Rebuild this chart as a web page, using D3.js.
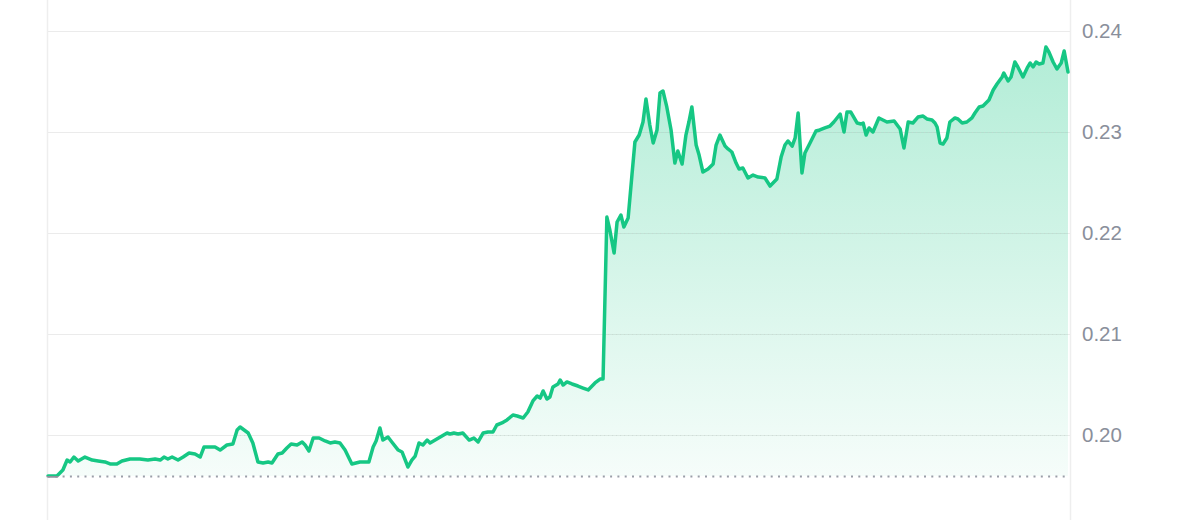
<!DOCTYPE html>
<html><head><meta charset="utf-8">
<script src="https://cdn.jsdelivr.net/npm/d3@7"></script>
<style>html,body{margin:0;padding:0;background:#fff;}svg{display:block}</style>
</head><body><svg id="c" width="1200" height="520"></svg>
<script>
// time in hours since start of the 24h window
const hours = [0,0.21,0.35,0.45,0.52,0.61,0.71,0.87,1.04,1.18,1.34,1.46,1.62,1.74,1.93,2.16,2.35,2.52,2.64,2.73,2.82,2.92,3.06,3.18,3.32,3.46,3.58,3.67,3.81,3.93,4.05,4.21,4.35,4.45,4.52,4.71,4.82,4.94,5.06,5.18,5.27,5.41,5.51,5.62,5.72,5.86,5.98,6.05,6.14,6.24,6.38,6.52,6.64,6.75,6.87,6.99,7.15,7.34,7.55,7.65,7.72,7.81,7.88,8.00,8.09,8.24,8.33,8.47,8.56,8.64,8.73,8.82,8.92,8.99,9.15,9.27,9.39,9.46,9.55,9.65,9.76,9.91,10.02,10.12,10.24,10.35,10.47,10.56,10.68,10.80,10.94,11.04,11.18,11.29,11.41,11.51,11.58,11.65,11.74,11.81,11.88,12.00,12.05,12.12,12.21,12.33,12.47,12.59,12.71,12.87,12.99,13.06,13.15,13.22,13.32,13.39,13.48,13.55,13.65,13.74,13.81,13.91,14.00,14.07,14.16,14.24,14.33,14.40,14.47,14.56,14.66,14.75,14.82,14.92,15.01,15.08,15.15,15.25,15.32,15.41,15.53,15.65,15.72,15.81,15.93,16.00,16.09,16.19,16.26,16.35,16.47,16.59,16.71,16.87,16.99,17.15,17.25,17.34,17.41,17.51,17.58,17.65,17.74,17.81,17.93,18.07,18.16,18.28,18.40,18.49,18.64,18.73,18.80,18.89,19.04,19.13,19.18,19.25,19.32,19.41,19.55,19.74,19.91,20.05,20.14,20.24,20.35,20.47,20.59,20.68,20.80,20.87,20.92,20.99,21.06,21.15,21.22,21.34,21.41,21.51,21.62,21.74,21.81,21.91,22.00,22.14,22.24,22.33,22.45,22.49,22.59,22.66,22.75,22.82,22.94,23.04,23.11,23.18,23.25,23.32,23.41,23.48,23.55,23.65,23.74,23.84,23.91,24.00];
const prices = [0.19594,0.19594,0.19653,0.19752,0.19733,0.19782,0.19743,0.19782,0.19752,0.19743,0.19733,0.19713,0.19713,0.19743,0.19762,0.19762,0.19752,0.19762,0.19752,0.19782,0.19762,0.19782,0.19752,0.19782,0.19822,0.19812,0.19782,0.19881,0.19881,0.19881,0.19851,0.19901,0.19911,0.20050,0.20079,0.20020,0.19921,0.19733,0.19723,0.19733,0.19723,0.19812,0.19822,0.19871,0.19911,0.19901,0.19931,0.19901,0.19842,0.19970,0.19970,0.19941,0.19921,0.19931,0.19921,0.19851,0.19713,0.19733,0.19733,0.19881,0.19941,0.20069,0.19950,0.19980,0.19931,0.19851,0.19832,0.19683,0.19752,0.19792,0.19921,0.19901,0.19950,0.19921,0.19960,0.19990,0.20020,0.20010,0.20020,0.20010,0.20020,0.19950,0.19970,0.19931,0.20020,0.20030,0.20030,0.20099,0.20119,0.20149,0.20198,0.20188,0.20168,0.20228,0.20337,0.20386,0.20366,0.20436,0.20356,0.20376,0.20475,0.20505,0.20545,0.20495,0.20525,0.20505,0.20485,0.20465,0.20446,0.20515,0.20554,0.20554,0.22158,0.22030,0.21802,0.22109,0.22178,0.22059,0.22148,0.22574,0.22901,0.22970,0.23099,0.23327,0.23069,0.22891,0.23020,0.23386,0.23406,0.23248,0.23020,0.22693,0.22812,0.22683,0.22970,0.23099,0.23248,0.22871,0.22772,0.22604,0.22634,0.22683,0.22871,0.22970,0.22861,0.22832,0.22802,0.22693,0.22634,0.22644,0.22545,0.22574,0.22554,0.22545,0.22465,0.22535,0.22752,0.22871,0.22911,0.22861,0.22941,0.23188,0.22594,0.22792,0.22891,0.23010,0.23020,0.23040,0.23059,0.23099,0.23178,0.23000,0.23198,0.23198,0.23089,0.23079,0.23089,0.22970,0.23040,0.23000,0.23139,0.23099,0.23109,0.23030,0.22842,0.23099,0.23089,0.23148,0.23158,0.23129,0.23119,0.23089,0.23049,0.22891,0.22881,0.22941,0.23099,0.23139,0.23129,0.23089,0.23099,0.23139,0.23188,0.23248,0.23257,0.23317,0.23416,0.23475,0.23545,0.23584,0.23505,0.23545,0.23693,0.23644,0.23545,0.23634,0.23683,0.23644,0.23693,0.23673,0.23683,0.23842,0.23792,0.23693,0.23624,0.23683,0.23802,0.23594];
const tickValues = [0.20, 0.21, 0.22, 0.23, 0.24];
const tickLabels = ["0.20", "0.21", "0.22", "0.23", "0.24"];

const W = 1200, H = 520;
const left = 48, right = 1068, gridRight = 1070;
const data = hours.map((h, i) => ({t: h, p: prices[i]}));
const svg = d3.select("#c");

const x = d3.scaleLinear().domain([0, 24]).range([left, right]);
const y = d3.scaleLinear().domain([0.20, 0.24]).range([435, 31]);

const defs = svg.append("defs");
const yTop = y(d3.max(prices));
const grad = defs.append("linearGradient").attr("id", "fillGrad")
  .attr("gradientUnits", "userSpaceOnUse").attr("x1", 0).attr("x2", 0).attr("y1", yTop).attr("y2", H);
grad.append("stop").attr("offset", 0).attr("stop-color", "#16c784").attr("stop-opacity", 0.33);
grad.append("stop").attr("offset", 1).attr("stop-color", "#16c784").attr("stop-opacity", 0.01);

const yBase = y(prices[0]);
defs.append("clipPath").attr("id", "above").append("rect").attr("x", 0).attr("y", 0).attr("width", W).attr("height", yBase);
defs.append("clipPath").attr("id", "below").append("rect").attr("x", 0).attr("y", yBase).attr("width", W).attr("height", H - yBase);

const area = d3.area().x(d => x(d.t)).y0(H).y1(d => y(d.p));
defs.append("clipPath").attr("id", "areaClip").append("path").datum(data).attr("d", area);

// frame verticals
svg.append("g").selectAll("line").data([left - 0.5, gridRight + 0.5]).join("line")
  .attr("x1", d => d).attr("x2", d => d).attr("y1", 0).attr("y2", H)
  .attr("stroke", "#eeeeee").attr("stroke-width", 1.5);

// grid
svg.append("g").selectAll("line").data(tickValues).join("line")
  .attr("x1", left).attr("x2", gridRight)
  .attr("y1", d => Math.round(y(d)) + 0.5).attr("y2", d => Math.round(y(d)) + 0.5)
  .attr("stroke", "#ebebeb").attr("stroke-width", 1.2);

// area
svg.append("path").datum(data).attr("d", area).attr("fill", "url(#fillGrad)").attr("clip-path", "url(#above)");

// faint dotted grid over the fill
svg.append("g").attr("clip-path", "url(#areaClip)").selectAll("line").data(tickValues).join("line")
  .attr("x1", left).attr("x2", gridRight)
  .attr("y1", d => Math.round(y(d)) + 0.5).attr("y2", d => Math.round(y(d)) + 0.5)
  .attr("stroke", "#c9d6cf").attr("stroke-width", 1).attr("stroke-dasharray", "1 3").attr("opacity", 0.6);

// baseline (opening price)
svg.append("line").attr("x1", left).attr("x2", right)
  .attr("y1", yBase + 0.5).attr("y2", yBase + 0.5)
  .attr("stroke", "#9a9ea8").attr("stroke-width", 2).attr("stroke-dasharray", "2 5.3");

// line
const line = d3.line().x(d => x(d.t)).y(d => y(d.p));
svg.append("path").datum(data).attr("d", line).attr("fill", "none")
  .attr("stroke", "#16c784").attr("stroke-width", 3.5).attr("stroke-linejoin", "round").attr("stroke-linecap", "round")
  .attr("clip-path", "url(#above)");
svg.append("path").datum(data).attr("d", line).attr("fill", "none")
  .attr("stroke", "#8e939d").attr("stroke-width", 3.5).attr("stroke-linejoin", "round").attr("stroke-linecap", "round")
  .attr("clip-path", "url(#below)");

// tick labels
svg.append("g").selectAll("text").data(tickValues).join("text")
  .attr("x", 1082).attr("y", d => y(d)).attr("dy", "0.36em")
  .attr("font-family", "'Liberation Sans', Arial, sans-serif").attr("font-size", 20.5)
  .attr("fill", "#8a8f9b")
  .text((d, i) => tickLabels[i]);
</script>
</body></html>
